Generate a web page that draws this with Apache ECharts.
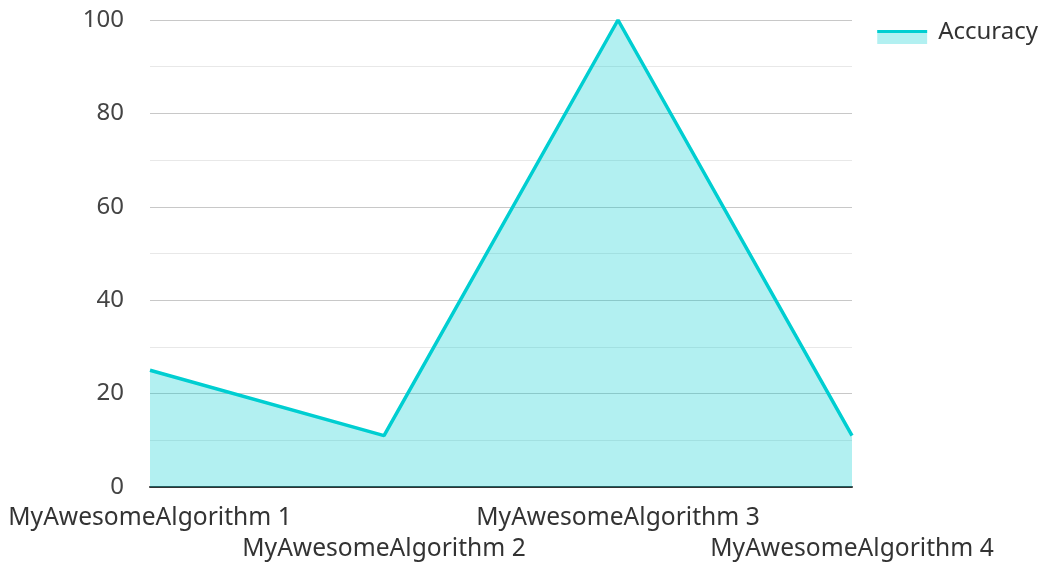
<!DOCTYPE html>
<html>
<head>
<meta charset="utf-8">
<script src="https://cdn.jsdelivr.net/npm/echarts@6/dist/echarts.min.js"></script>
<style>
  html, body { margin: 0; padding: 0; background: #fff; }
  #chart { width: 1042px; height: 562px; }
</style>
</head>
<body>
<div id="chart"></div>
<script>
// Algorithms compared and their accuracy scores (%)
const algorithms = [
  'MyAwesomeAlgorithm 1',
  'MyAwesomeAlgorithm 2',
  'MyAwesomeAlgorithm 3',
  'MyAwesomeAlgorithm 4'
];
const accuracy = [25, 11, 100, 11];
const seriesName = 'Accuracy';

const lineColor = '#00ced1';
const fillColor = 'rgba(0, 206, 209, 0.3)';

// Legend swatch: filled box with a solid stroke along its top edge,
// placed in the lower-left part of a slightly larger transparent canvas
const swatchSvg =
  '<svg xmlns="http://www.w3.org/2000/svg" width="56" height="24">' +
  '<rect x="0" y="10" width="50" height="14" fill="#b2f0f1"/>' +
  '<rect x="0" y="10" width="50" height="3" fill="#00ced1"/>' +
  '</svg>';
const swatchIcon = 'image://data:image/svg+xml;charset=utf-8,' + encodeURIComponent(swatchSvg);

const chart = echarts.init(document.getElementById('chart'), null, { renderer: 'canvas' });

chart.setOption({
  animation: false,
  textStyle: { fontFamily: 'Noto Sans' },
  legend: {
    data: [{ name: seriesName, icon: swatchIcon }],
    right: 4,
    top: 20,
    padding: 0,
    itemWidth: 56,
    itemHeight: 24,
    itemGap: 10,
    textStyle: { fontSize: 24, color: '#333', fontFamily: 'Noto Sans' }
  },
  grid: {
    left: 150, right: 190, top: 20, bottom: 75,
    containLabel: false,
    outerBoundsMode: 'none'
  },
  xAxis: {
    type: 'category',
    data: algorithms,
    boundaryGap: false,
    axisLine: { show: true, lineStyle: { color: '#333', width: 2 } },
    axisTick: { show: false },
    splitLine: { show: false },
    axisLabel: {
      interval: 0,
      margin: 15,
      fontSize: 24.6,
      lineHeight: 31,
      color: '#333',
      fontFamily: 'Noto Sans',
      // stagger every other label onto a second row
      formatter: (value, index) => (index % 2 === 1 ? '\n' + value : value)
    }
  },
  yAxis: {
    type: 'value',
    min: 0,
    max: 100,
    interval: 20,
    axisLine: { show: false },
    axisTick: { show: false },
    axisLabel: { margin: 26, fontSize: 24, color: '#444', fontFamily: 'Noto Sans' },
    splitLine: { show: true, lineStyle: { color: '#c8c8c8', width: 1 } },
    minorTick: { show: false, splitNumber: 2 },
    minorSplitLine: { show: true, lineStyle: { color: '#e8e8e8', width: 1 } }
  },
  series: [{
    name: seriesName,
    type: 'line',
    data: accuracy,
    symbol: 'none',
    lineStyle: { color: lineColor, width: 3.5 },
    itemStyle: { color: lineColor },
    areaStyle: { color: fillColor, opacity: 1, origin: 'start' }
  }]
});
</script>
</body>
</html>
